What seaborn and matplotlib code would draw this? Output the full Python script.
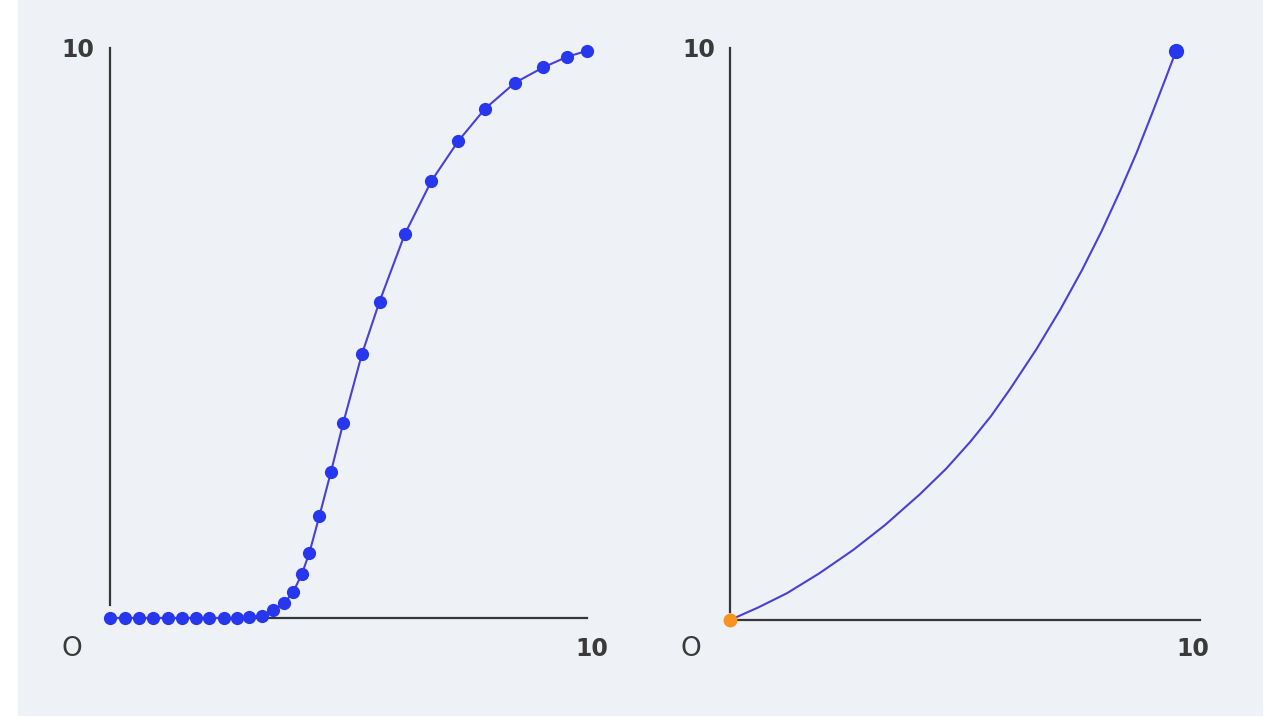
import pandas as pd
import seaborn as sns
import matplotlib.pyplot as plt
from matplotlib.patches import Rectangle

# left panel: S-shaped series with markers
sig_x = [0.0, 0.31, 0.61, 0.91, 1.21, 1.50, 1.80, 2.08, 2.38, 2.66, 2.92, 3.18,
         3.42, 3.65, 3.84, 4.02, 4.18, 4.39, 4.63, 4.89, 5.28, 5.65, 6.18, 6.74,
         7.30, 7.86, 8.49, 9.08, 9.59, 9.99]
sig_y = [0.0, 0.0, 0.0, 0.0, 0.0, 0.0, 0.0, 0.0, 0.0, 0.0, 0.02, 0.04,
         0.14, 0.26, 0.46, 0.77, 1.15, 1.80, 2.57, 3.44, 4.65, 5.58, 6.77, 7.71,
         8.41, 8.98, 9.44, 9.71, 9.90, 10.0]

# right panel: convex curve, start and end points highlighted
curve_x = [0.0, 0.6, 1.21, 1.9, 2.62, 3.3, 4.04, 4.6, 5.11, 5.55, 5.96, 6.52,
           7.03, 7.49, 7.91, 8.30, 8.65, 8.97, 9.26, 9.49]
curve_y = [0.0, 0.22, 0.47, 0.82, 1.23, 1.67, 2.21, 2.66, 3.13, 3.58, 4.06, 4.76,
           5.46, 6.15, 6.84, 7.54, 8.21, 8.88, 9.50, 10.0]

bottom_labels = ["O", "10"]
top_label = "10"

line_c = "#4a3fd6"
dot_c = "#2637ee"
orange = "#f7931e"
axis_c = "#363636"
text_c = "#3a3a3a"

sns.set_theme(style="white")
plt.rcParams['font.family'] = ['DejaVu Sans']

fig = plt.figure(figsize=(12.8, 7.2), dpi=100)
fig.patch.set_facecolor("white")
fig.patches.append(Rectangle((18 / 1280, 5 / 720), (1262 - 18) / 1280, 715 / 720,
                             transform=fig.transFigure, color="#eef1f5", zorder=-5))

sig_df = pd.DataFrame({"x": sig_x, "y": sig_y})
curve_df = pd.DataFrame({"x": curve_x, "y": curve_y})

ax1 = fig.add_axes([110 / 1280, (720 - 618) / 720, 477 / 1280, 570 / 720])
ax2 = fig.add_axes([730 / 1280, (720 - 620) / 720, 470 / 1280, 572 / 720])

for ax, ytop in [(ax1, 570 / 56.7), (ax2, 572 / 56.9)]:
    ax.set_facecolor("none")
    ax.set_xlim(0, 10)
    ax.set_ylim(0, ytop)
    ax.set_xticks([])
    ax.set_yticks([])
    for s in ["top", "right"]:
        ax.spines[s].set_visible(False)
    for s in ["left", "bottom"]:
        ax.spines[s].set_color(axis_c)
        ax.spines[s].set_linewidth(1.6)
    ax.spines["bottom"].set_bounds(0, 10)

ax1.spines["left"].set_bounds(0.23, 570 / 56.7)
ax2.spines["left"].set_bounds(0.14, 572 / 56.9)

sns.lineplot(data=sig_df, x="x", y="y", ax=ax1, color=line_c, linewidth=1.5,
             marker="o", markersize=9.5, markerfacecolor=dot_c,
             markeredgewidth=0, clip_on=False, zorder=3)

sns.lineplot(data=curve_df, x="x", y="y", ax=ax2, color=line_c, linewidth=1.5,
             clip_on=False, zorder=3)
sns.scatterplot(x=curve_x[:1], y=curve_y[:1], ax=ax2, color=orange, s=100,
                linewidth=0, clip_on=False, zorder=4)
sns.scatterplot(x=curve_x[-1:], y=curve_y[-1:], ax=ax2, color=dot_c, s=120,
                linewidth=0, clip_on=False, zorder=4)

for ax in [ax1, ax2]:
    ax.set_xlabel("")
    ax.set_ylabel("")

# axis end labels
ax1.text(-0.80, -0.55, bottom_labels[0], ha="center", va="center", fontsize=19,
         color=text_c)
ax1.text(10.1, -0.55, bottom_labels[1], ha="center", va="center", fontsize=17,
         fontweight="bold", color=text_c)
ax1.text(-0.67, 10.02, top_label, ha="center", va="center", fontsize=17,
         fontweight="bold", color=text_c)

ax2.text(-0.83, -0.51, bottom_labels[0], ha="center", va="center", fontsize=19,
         color=text_c)
ax2.text(9.85, -0.51, bottom_labels[1], ha="center", va="center", fontsize=17,
         fontweight="bold", color=text_c)
ax2.text(-0.66, 10.02, top_label, ha="center", va="center", fontsize=17,
         fontweight="bold", color=text_c)

fig.savefig("out.png", dpi=100, facecolor=fig.get_facecolor())
